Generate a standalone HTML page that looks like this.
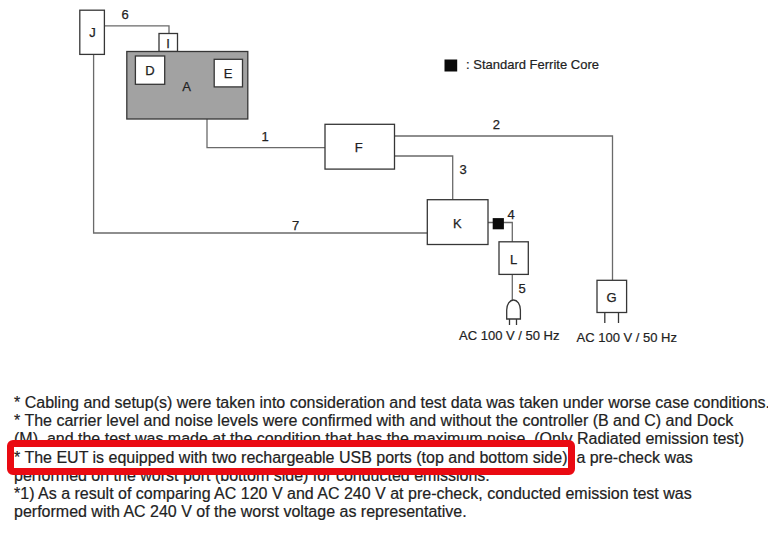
<!DOCTYPE html>
<html><head><meta charset="utf-8">
<style>
html,body{margin:0;padding:0;background:#fff;}
body{width:768px;height:536px;position:relative;overflow:hidden;font-family:"Liberation Sans",sans-serif;}
svg{position:absolute;left:0;top:0;}
.t{position:absolute;left:14px;font-size:16px;color:#222;white-space:nowrap;line-height:18.1px;-webkit-text-stroke:0.2px #222;}
.red{position:absolute;left:7px;top:440px;width:553.5px;height:20.8px;border:7px solid #ea0a12;border-radius:6px;}
</style></head>
<body>
<svg width="768" height="536" viewBox="0 0 768 536" font-family="Liberation Sans, sans-serif">
<g fill="none" stroke="#6a6a6a" stroke-width="1.3">
  <polyline points="104.5,25.8 169,25.8 169,34"/>
  <polyline points="93.6,54 93.6,233 427.3,233"/>
  <polyline points="207,119 207,147.6 325,147.6"/>
  <polyline points="394.5,136 612.5,136 612.5,280.3"/>
  <polyline points="394.5,156 452.7,156 452.7,200"/>
  <polyline points="488,222.5 512.3,222.5 512.3,242"/>
  <polyline points="512.3,274.5 512.3,300"/>
</g>
<g stroke="#363636" stroke-width="1.3">
  <rect x="79.8" y="10.2" width="24.6" height="44.2" fill="#fff"/>
  <rect x="159" y="33.5" width="18.5" height="18" fill="#fff"/>
  <rect x="126.8" y="51.5" width="121" height="67.5" fill="#a2a2a2"/>
  <rect x="135.4" y="56" width="29.3" height="28.3" fill="#fff"/>
  <rect x="214.2" y="59.3" width="28.3" height="27.6" fill="#fff"/>
  <rect x="325" y="124.3" width="69.5" height="44.8" fill="#fff"/>
  <rect x="427.3" y="199.7" width="60.7" height="44.8" fill="#fff"/>
  <rect x="499" y="241.8" width="29.3" height="32.6" fill="#fff"/>
  <rect x="597" y="280.3" width="29.6" height="32.2" fill="#fff"/>
</g>
<rect x="492.7" y="218.1" width="11.2" height="11.2" fill="#0a0a0a"/>
<rect x="444.5" y="59.5" width="12.7" height="12" fill="#0a0a0a"/>
<g stroke="#363636" stroke-width="1.3" fill="#fff">
  <path d="M506.7,319 L506.7,310 A6.85,10 0 0 1 520.4,310 L520.4,319 Z"/>
  <line x1="509.5" y1="319" x2="509.5" y2="325"/>
  <line x1="516.5" y1="319" x2="516.5" y2="325"/>
  <line x1="604.8" y1="312.5" x2="604.8" y2="323"/>
  <line x1="618.5" y1="312.5" x2="618.5" y2="323"/>
</g>
<g fill="#222" stroke="#222" stroke-width="0.25" font-size="13" text-anchor="middle">
  <text x="92.5" y="37">J</text>
  <text x="125.2" y="19">6</text>
  <text x="168" y="47.8">I</text>
  <text x="150" y="75.3">D</text>
  <text x="228" y="78.3">E</text>
  <text x="186.5" y="90.8">A</text>
  <text x="265" y="141.3">1</text>
  <text x="358.7" y="151.5">F</text>
  <text x="496.3" y="128.8">2</text>
  <text x="463" y="173.6">3</text>
  <text x="457.4" y="228">K</text>
  <text x="511" y="219.2">4</text>
  <text x="513.5" y="263.5">L</text>
  <text x="522" y="292.8">5</text>
  <text x="611.5" y="302">G</text>
  <text x="295.5" y="230.4">7</text>
</g>
<g fill="#222" stroke="#222" stroke-width="0.2" font-size="13">
  <text x="466" y="68.5">: Standard Ferrite Core</text>
  <text x="459" y="340.2">AC 100 V / 50 Hz</text>
  <text x="576.5" y="342.2">AC 100 V / 50 Hz</text>
</g>
</svg>
<div class="t" style="top:394.20px">* Cabling and setup(s) were taken into consideration and test data was taken under worse case conditions.</div>
<div class="t" style="top:412.30px">* The carrier level and noise levels were confirmed with and without the controller (B and C) and Dock</div>
<div class="t" style="top:430.40px">(M), and the test was made at the condition that has the maximum noise. (Only Radiated emission test)</div>
<div class="t" style="top:449.20px">* The EUT is equipped with two rechargeable USB ports (top and bottom side), a pre-check was</div>
<div class="t" style="top:466.60px">performed on the worst port (bottom side) for conducted emissions.</div>
<div class="t" style="top:484.70px">*1) As a result of comparing AC 120 V and AC 240 V at pre-check, conducted emission test was</div>
<div class="t" style="top:502.80px">performed with AC 240 V of the worst voltage as representative.</div>
<div class="red"></div>
</body></html>
